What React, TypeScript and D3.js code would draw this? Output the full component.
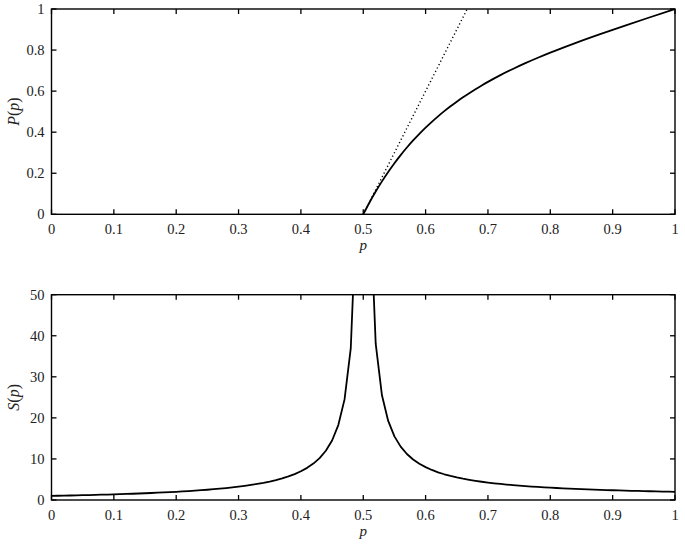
import React, { useEffect, useRef } from "react";
import * as d3 from "d3";

// Giant-cluster probability P(p)
const pValuesP = [0.5, 0.51, 0.52, 0.53, 0.54, 0.55, 0.56, 0.57, 0.58, 0.59, 0.6, 0.61, 0.62, 0.63, 0.64, 0.65, 0.66, 0.67, 0.68, 0.69, 0.7, 0.72, 0.74, 0.76, 0.78, 0.8, 0.84, 0.88, 0.92, 0.96, 1.0];
const valuesP = [0, 0.0577, 0.111, 0.1604, 0.2062, 0.2488, 0.2884, 0.3253, 0.3598, 0.392, 0.4222, 0.4506, 0.4773, 0.5024, 0.5261, 0.5485, 0.5698, 0.5899, 0.6091, 0.6274, 0.6449, 0.6777, 0.7079, 0.7361, 0.7625, 0.7875, 0.8342, 0.8778, 0.9194, 0.9599, 1.0];

// Tangent (dotted) line at p = 0.5
const tangentP = [0.5, 0.6667];
const tangentValues = [0, 1];

// Mean cluster size S(p), below and above 0.5
const pLeftS = [0, 0.01, 0.02, 0.03, 0.04, 0.05, 0.06, 0.07, 0.08, 0.09, 0.1, 0.11, 0.12, 0.13, 0.14, 0.15, 0.16, 0.17, 0.18, 0.19, 0.2, 0.21, 0.22, 0.23, 0.24, 0.25, 0.26, 0.27, 0.28, 0.29, 0.3, 0.31, 0.32, 0.33, 0.34, 0.35, 0.36, 0.37, 0.38, 0.39, 0.4, 0.41, 0.42, 0.43, 0.44, 0.45, 0.46, 0.47, 0.48, 0.49];
const valuesLeftS = [1, 1.031, 1.063, 1.096, 1.13, 1.167, 1.205, 1.244, 1.286, 1.329, 1.375, 1.423, 1.474, 1.527, 1.583, 1.643, 1.706, 1.773, 1.844, 1.919, 2, 2.086, 2.179, 2.278, 2.385, 2.5, 2.625, 2.761, 2.909, 3.071, 3.25, 3.447, 3.667, 3.912, 4.188, 4.5, 4.857, 5.269, 5.75, 6.318, 7, 7.833, 8.875, 10.21, 12, 14.5, 18.25, 24.5, 37, 74.5];
const pRightS = [0.51, 0.52, 0.53, 0.54, 0.55, 0.56, 0.57, 0.58, 0.59, 0.6, 0.61, 0.62, 0.63, 0.64, 0.65, 0.66, 0.67, 0.68, 0.69, 0.7, 0.71, 0.72, 0.73, 0.74, 0.75, 0.76, 0.77, 0.78, 0.79, 0.8, 0.81, 0.82, 0.83, 0.84, 0.85, 0.86, 0.87, 0.88, 0.89, 0.9, 0.91, 0.92, 0.93, 0.94, 0.95, 0.96, 0.97, 0.98, 0.99, 1.0];
const valuesRightS = [75.5, 38, 25.5, 19.25, 15.5, 13, 11.21, 9.875, 8.833, 8, 7.318, 6.75, 6.269, 5.857, 5.5, 5.188, 4.912, 4.667, 4.447, 4.25, 4.071, 3.909, 3.761, 3.625, 3.5, 3.385, 3.278, 3.179, 3.086, 3, 2.919, 2.844, 2.773, 2.706, 2.643, 2.583, 2.527, 2.474, 2.423, 2.375, 2.329, 2.286, 2.244, 2.205, 2.167, 2.13, 2.096, 2.063, 2.031, 2];

const xTicks = [0, 0.1, 0.2, 0.3, 0.4, 0.5, 0.6, 0.7, 0.8, 0.9, 1];
const yTicksP = [0, 0.2, 0.4, 0.6, 0.8, 1];
const yTicksS = [0, 10, 20, 30, 40, 50];

const W = 685;
const H = 544;
const FONT = "'Liberation Serif', 'Times New Roman', Times, serif";

export default function App() {
  const ref = useRef<SVGSVGElement | null>(null);

  useEffect(() => {
    const svg = d3.select(ref.current);
    svg.selectAll("*").remove();

    const left = 51.5;
    const right = 675;
    const panels = [
      { top: 9, bottom: 214.3, domain: [0, 1], ticks: yTicksP, label: "P", id: "cp1" },
      { top: 294.7, bottom: 500, domain: [0, 50], ticks: yTicksS, label: "S", id: "cp2" },
    ];

    const x = d3.scaleLinear().domain([0, 1]).range([left, right]);

    panels.forEach((pn, i) => {
      const y = d3.scaleLinear().domain(pn.domain).range([pn.bottom, pn.top]);
      const g = svg.append("g").attr("font-family", FONT);

      g.append("clipPath").attr("id", pn.id).append("rect")
        .attr("x", left).attr("y", pn.top).attr("width", right - left).attr("height", pn.bottom - pn.top);

      const plot = g.append("g").attr("clip-path", `url(#${pn.id})`);
      const line = d3.line<[number, number]>().x(d => x(d[0])).y(d => y(d[1]));

      if (i === 0) {
        const dataP = pValuesP.map((p, k) => [p, valuesP[k]] as [number, number]);
        const tan = tangentP.map((p, k) => [p, tangentValues[k]] as [number, number]);
        plot.append("path").attr("d", line(tan)!).attr("fill", "none").attr("stroke", "#000")
          .attr("stroke-width", 1.4).attr("stroke-dasharray", "1.2,2.6");
        plot.append("path").attr("d", d3.line<[number, number]>().x(d => x(d[0])).y(d => y(d[1])).curve(d3.curveMonotoneX)(dataP)!)
          .attr("fill", "none").attr("stroke", "#000").attr("stroke-width", 1.8);
      } else {
        const l = pLeftS.map((p, k) => [p, valuesLeftS[k]] as [number, number]);
        const r = pRightS.map((p, k) => [p, valuesRightS[k]] as [number, number]);
        [l, r].forEach(dd => {
          plot.append("path").attr("d", line(dd)!).attr("fill", "none").attr("stroke", "#000")
            .attr("stroke-width", 1.8).attr("stroke-linejoin", "round");
        });
      }

      const tl = 5;
      xTicks.forEach(t => {
        g.append("line").attr("x1", x(t)).attr("x2", x(t)).attr("y1", pn.bottom).attr("y2", pn.bottom - tl)
          .attr("stroke", "#000").attr("stroke-width", 1.3);
        g.append("line").attr("x1", x(t)).attr("x2", x(t)).attr("y1", pn.top).attr("y2", pn.top + tl)
          .attr("stroke", "#000").attr("stroke-width", 1.3);
        g.append("text").attr("x", x(t)).attr("y", pn.bottom + 19.5).attr("text-anchor", "middle")
          .attr("font-size", 14.5).attr("fill", "#222").text(String(t));
      });
      pn.ticks.forEach(t => {
        g.append("line").attr("x1", left).attr("x2", left + tl).attr("y1", y(t)).attr("y2", y(t))
          .attr("stroke", "#000").attr("stroke-width", 1.3);
        g.append("line").attr("x1", right).attr("x2", right - tl).attr("y1", y(t)).attr("y2", y(t))
          .attr("stroke", "#000").attr("stroke-width", 1.3);
        g.append("text").attr("x", left - 7).attr("y", y(t) + 5).attr("text-anchor", "end")
          .attr("font-size", 14.5).attr("fill", "#222").text(String(t));
      });

      g.append("rect").attr("x", left).attr("y", pn.top).attr("width", right - left).attr("height", pn.bottom - pn.top)
        .attr("fill", "none").attr("stroke", "#000").attr("stroke-width", 1.4);

      g.append("text").attr("x", (left + right) / 2).attr("y", pn.bottom + 35.5).attr("text-anchor", "middle")
        .attr("font-size", 15).attr("font-style", "italic").attr("fill", "#222").text("p");

      const cy = (pn.top + pn.bottom) / 2;
      const yl = g.append("text").attr("transform", `translate(19,${cy}) rotate(-90)`).attr("text-anchor", "middle")
        .attr("font-size", 16).attr("fill", "#222");
      yl.append("tspan").attr("font-style", "italic").text(pn.label);
      yl.append("tspan").text("(");
      yl.append("tspan").attr("font-style", "italic").text("p");
      yl.append("tspan").text(")");
    });
  }, []);

  return (
    <svg ref={ref} width={W} height={H} style={{ position: "absolute", left: 0, top: 0, background: "#fff" }} />
  );
}
